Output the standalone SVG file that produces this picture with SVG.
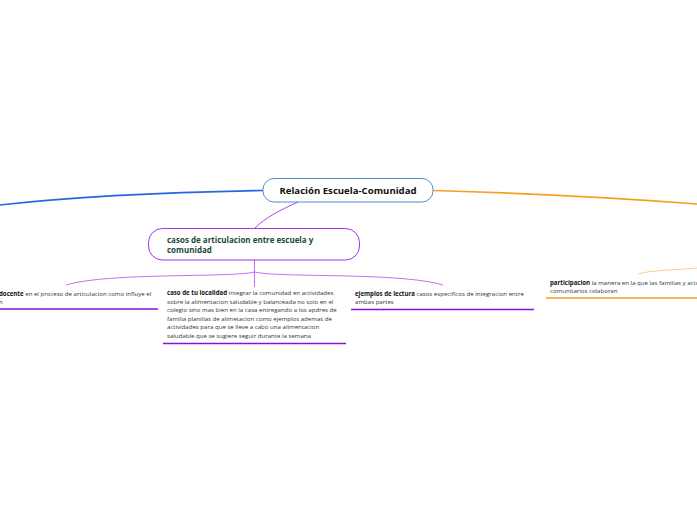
<svg xmlns="http://www.w3.org/2000/svg" width="697" height="520" viewBox="0 0 697 520">
<style>
text{font-family:"Open Sans","Noto Sans",sans-serif;}
.leaf{font-size:6.1px;fill:#333;}
.leaf tspan.b{font-weight:bold;fill:#111;}
.pl{fill:none;stroke:#b347f0;stroke-width:0.8;}
.ul{fill:none;stroke:#8a10d8;stroke-width:1.4;}
</style>
<rect width="697" height="520" fill="#fff"/>
<g id="connectors">
<path d="M0,205 C80,196 180,192 263,190.5" fill="none" stroke="#2a65e0" stroke-width="1.6"/>
<path d="M433,190.5 C520,193 620,198 697,204" fill="none" stroke="#f5a020" stroke-width="1.6"/>
<path d="M298,202 C280,210 265,218 255,228" fill="none" stroke="#b040f0" stroke-width="1"/>
<path class="pl" d="M254.5,260 L254.5,287"/>
<path class="pl" d="M254.5,272 C230,278 110,272 66,285"/>
<path class="pl" d="M254.5,272 C280,278 400,272 443,285"/>
<path d="M697,268 C680,270 650,270 638,274" fill="none" stroke="#f8c070" stroke-width="0.8"/>
</g>
<g id="central">
<rect x="263" y="178.5" width="170" height="23.5" rx="11" fill="#fff" stroke="#4a90d0" stroke-width="1"/>
<text x="348" y="193.5" font-size="9.6" font-weight="bold" text-anchor="middle" fill="#111">Relación Escuela-Comunidad</text>
</g>
<g id="casos">
<rect x="148.5" y="228.5" width="211" height="31.5" rx="14" fill="#fff" stroke="#a430f0" stroke-width="1"/>
<text font-size="8" font-weight="bold" fill="#1b4a37"><tspan x="167" y="242.5">casos de articulacion entre escuela y</tspan><tspan x="167" y="253">comunidad</tspan></text>
</g>
<g id="docente">
<text class="leaf"><tspan x="-1" y="296"><tspan class="b">docente</tspan> en el proceso de articulacion como influye el</tspan><tspan x="-1" y="304">n</tspan></text>
<path class="ul" d="M0,309 L158,309"/>
</g>
<g id="localidad">
<text class="leaf"><tspan x="167" y="295"><tspan class="b">caso de tu localidad</tspan> integrar la comunidad en actividades</tspan><tspan x="167" y="303.5">sobre la alimentacion saludable y balanceada no solo en el</tspan><tspan x="167" y="312">colegio sino mas bien en la casa entregando a los apdres de</tspan><tspan x="167" y="320.5">familia planillas de alimetacion como ejemplos ademas de</tspan><tspan x="167" y="329">actividades para que se lleve a cabo una alimentacion</tspan><tspan x="167" y="337.5">saludable que se sugiere seguir durante la semana</tspan></text>
<path class="ul" d="M163,343.5 L346,343.5"/>
</g>
<g id="lectura">
<text class="leaf"><tspan x="355" y="296"><tspan class="b">ejemplos de lectura</tspan> casos especificos de integracion entre</tspan><tspan x="355" y="304">ambas partes</tspan></text>
<path class="ul" d="M351,309.5 L534,309.5"/>
</g>
<g id="participacion">
<text class="leaf"><tspan x="550" y="285"><tspan class="b">participacion</tspan> la manera en la que las familias y acto</tspan><tspan x="550" y="293">comunitarios colaboran</tspan></text>
<path d="M546,298 L697,298" fill="none" stroke="#f5a020" stroke-width="1.4"/>
</g>
</svg>
